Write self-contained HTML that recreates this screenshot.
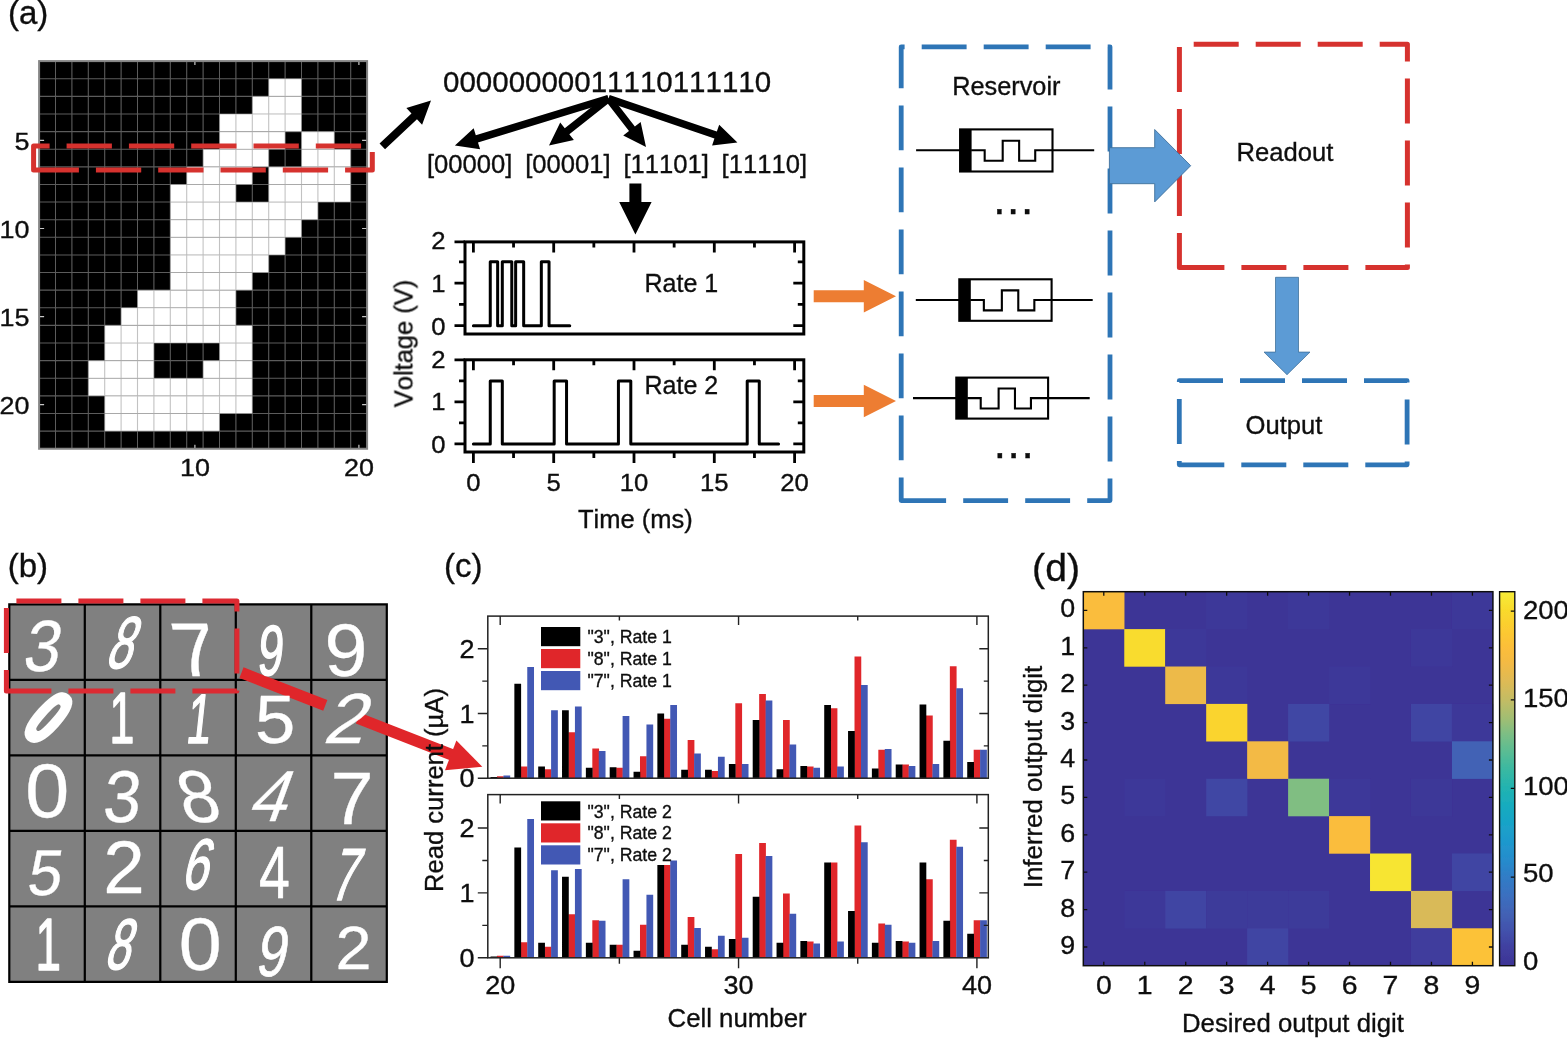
<!DOCTYPE html>
<html lang="en"><head><meta charset="utf-8"><title>Reservoir computing figure</title>
<style>
html,body{margin:0;padding:0;background:#fff;}
body{width:1567px;height:1039px;overflow:hidden;}
svg{display:block;}
text{font-family:"Liberation Sans",sans-serif;fill:#111;font-kerning:none;stroke:#111;stroke-width:0.35px;}
.hw text{fill:#fff;stroke:#fff;stroke-linejoin:round;}
</style></head><body>
<svg width="1567" height="1039" viewBox="0 0 1567 1039">
<rect x="0" y="0" width="1567" height="1039" fill="#fff"/>
<defs><filter id="soft" x="0" y="0" width="1567" height="1039" filterUnits="userSpaceOnUse"><feGaussianBlur stdDeviation="0.55"/></filter></defs>
<g filter="url(#soft)">

<text transform="translate(7.9 24.3)" font-size="33">(a)</text>
<text transform="translate(7.7 576.5)" font-size="33">(b)</text>
<text transform="translate(444 576.6)" font-size="33">(c)</text>
<text transform="translate(1032.1 580.5) scale(1.03 1)" font-size="38">(d)</text>
<g id="digit-image">
<rect x="39.1" y="61.1" width="328" height="387.65" fill="#000"/>
<rect x="268.7" y="78.73" width="32.8" height="17.62" fill="#fff"/>
<rect x="252.3" y="96.35" width="49.2" height="17.62" fill="#fff"/>
<rect x="219.5" y="113.97" width="82" height="17.62" fill="#fff"/>
<rect x="219.5" y="131.59" width="65.6" height="17.62" fill="#fff"/>
<rect x="301.5" y="131.59" width="32.8" height="17.62" fill="#fff"/>
<rect x="203.1" y="149.21" width="65.6" height="17.62" fill="#fff"/>
<rect x="301.5" y="149.21" width="49.2" height="17.62" fill="#fff"/>
<rect x="186.7" y="166.83" width="65.6" height="17.62" fill="#fff"/>
<rect x="268.7" y="166.83" width="82" height="17.62" fill="#fff"/>
<rect x="170.3" y="184.45" width="65.6" height="17.62" fill="#fff"/>
<rect x="268.7" y="184.45" width="82" height="17.62" fill="#fff"/>
<rect x="170.3" y="202.07" width="147.6" height="17.62" fill="#fff"/>
<rect x="170.3" y="219.69" width="131.2" height="17.62" fill="#fff"/>
<rect x="170.3" y="237.31" width="114.8" height="17.62" fill="#fff"/>
<rect x="170.3" y="254.93" width="98.4" height="17.62" fill="#fff"/>
<rect x="170.3" y="272.55" width="82" height="17.62" fill="#fff"/>
<rect x="137.5" y="290.17" width="98.4" height="17.62" fill="#fff"/>
<rect x="121.1" y="307.79" width="114.8" height="17.62" fill="#fff"/>
<rect x="104.7" y="325.41" width="147.6" height="17.62" fill="#fff"/>
<rect x="104.7" y="343.03" width="49.2" height="17.62" fill="#fff"/>
<rect x="219.5" y="343.03" width="32.8" height="17.62" fill="#fff"/>
<rect x="88.3" y="360.65" width="65.6" height="17.62" fill="#fff"/>
<rect x="203.1" y="360.65" width="49.2" height="17.62" fill="#fff"/>
<rect x="88.3" y="378.27" width="164" height="17.62" fill="#fff"/>
<rect x="104.7" y="395.89" width="147.6" height="17.62" fill="#fff"/>
<rect x="104.7" y="413.51" width="114.8" height="17.62" fill="#fff"/>
<path d="M55.5 61.1V448.75M71.9 61.1V448.75M88.3 61.1V448.75M104.7 61.1V448.75M121.1 61.1V448.75M137.5 61.1V448.75M153.9 61.1V448.75M170.3 61.1V448.75M186.7 61.1V448.75M203.1 61.1V448.75M219.5 61.1V448.75M235.9 61.1V448.75M252.3 61.1V448.75M268.7 61.1V448.75M285.1 61.1V448.75M301.5 61.1V448.75M317.9 61.1V448.75M334.3 61.1V448.75M350.7 61.1V448.75M39.1 78.73H367.1M39.1 96.35H367.1M39.1 113.97H367.1M39.1 131.59H367.1M39.1 149.21H367.1M39.1 166.83H367.1M39.1 184.45H367.1M39.1 202.07H367.1M39.1 219.69H367.1M39.1 237.31H367.1M39.1 254.93H367.1M39.1 272.55H367.1M39.1 290.17H367.1M39.1 307.79H367.1M39.1 325.41H367.1M39.1 343.03H367.1M39.1 360.65H367.1M39.1 378.27H367.1M39.1 395.89H367.1M39.1 413.51H367.1M39.1 431.13H367.1" stroke="#9a9a9a" stroke-opacity="0.6" stroke-width="1.1" fill="none"/>
<path d="M194.9 61.1v4M194.9 448.75v-4M358.9 61.1v4M358.9 448.75v-4M39.1 140.4h5M367.1 140.4h-5M39.1 228.5h5M367.1 228.5h-5M39.1 316.6h5M367.1 316.6h-5M39.1 404.7h5M367.1 404.7h-5" stroke="#c8c8c8" stroke-width="1.2" fill="none"/>
<rect x="39.1" y="61.1" width="328" height="387.65" fill="none" stroke="#858585" stroke-width="2"/>
</g>
<text transform="translate(29.5 149.6) scale(1.1 1)" font-size="24.5" text-anchor="end">5</text>
<text transform="translate(29.5 237.7) scale(1.1 1)" font-size="24.5" text-anchor="end">10</text>
<text transform="translate(29.5 325.8) scale(1.1 1)" font-size="24.5" text-anchor="end">15</text>
<text transform="translate(29.5 413.9) scale(1.1 1)" font-size="24.5" text-anchor="end">20</text>
<text transform="translate(194.9 476) scale(1.1 1)" font-size="24.5" text-anchor="middle">10</text>
<text transform="translate(358.9 476) scale(1.1 1)" font-size="24.5" text-anchor="middle">20</text>
<path d="M33.6 170H372.3V146.1H33.6Z" fill="none" stroke="#d6302f" stroke-width="5" stroke-dasharray="45.3 17" stroke-linejoin="round"/>
<text transform="translate(443 91.6)" font-size="29.5">00000000011110111110</text>
<text transform="translate(427 173.3)" font-size="25.6">[00000]</text>
<text transform="translate(525.2 173.3)" font-size="25.6">[00001]</text>
<text transform="translate(623.4 173.3)" font-size="25.6">[11101]</text>
<text transform="translate(721.6 173.3)" font-size="25.6">[11110]</text>
<polygon points="385.04,149.22 416.97,119.26 422.1,124.72 431,100.6 406.36,107.95 411.49,113.42 379.56,143.38" fill="#000"/>
<polygon points="607.42,94.96 475.8,135.32 473.66,128.34 454.9,145.6 480.11,149.37 477.97,142.39 609.58,102.04" fill="#000"/>
<polygon points="606.21,95.6 564.75,128.34 560.23,122.61 549,145.5 573.87,139.88 569.34,134.15 610.79,101.4" fill="#000"/>
<polygon points="605.57,100.76 629,131.07 623.23,135.53 646,147 640.63,122.08 634.86,126.54 611.43,96.24" fill="#000"/>
<polygon points="607.3,102 714.44,138.57 712.08,145.48 737.4,142.5 719.19,124.66 716.83,131.57 609.7,95" fill="#000"/>
<polygon points="629.4,183.4 629.4,202 619.2,202 635.4,234.4 651.6,202 641.4,202 641.4,183.4" fill="#000"/>
<path d="M465 325.7h-10.5M803.8 325.7h-10.5M465 304.4h-6M803.8 304.4h-6M465 283.1h-10.5M803.8 283.1h-10.5M465 261.8h-6M803.8 261.8h-6M465 241.9h-10.5M473.4 241.9v10.5M513.55 241.9v5.5M553.7 241.9v10.5M593.85 241.9v5.5M634 241.9v10.5M674.15 241.9v5.5M714.3 241.9v10.5M754.45 241.9v5.5M794.6 241.9v10.5" stroke="#000" stroke-width="2.8" fill="none"/>
<rect x="465" y="241.9" width="338.8" height="92.1" fill="none" stroke="#000" stroke-width="3"/>
<path d="M473.4 325.7H490.26V261.8H497.65V325.7H502.31V261.8H511.78V325.7H515.64V261.8H523.67V325.7H541.33V261.8H549.04V325.7H569.76" stroke="#000" stroke-width="3" fill="none" stroke-linejoin="round" stroke-linecap="round"/>
<text transform="translate(445.5 334.7) scale(1.07 1)" font-size="24" text-anchor="end">0</text>
<text transform="translate(445.5 291.5) scale(1.07 1)" font-size="24" text-anchor="end">1</text>
<text transform="translate(445.5 248.9) scale(1.07 1)" font-size="24" text-anchor="end">2</text>
<text transform="translate(644.5 292)" font-size="25">Rate 1</text>
<path d="M465 443.9h-10.5M803.8 443.9h-10.5M465 422.9h-6M803.8 422.9h-6M465 401.9h-10.5M803.8 401.9h-10.5M465 380.9h-6M803.8 380.9h-6M465 359.8h-10.5M473.4 359.8v10.5M473.4 452v11M513.55 359.8v5.5M513.55 452v6M553.7 359.8v10.5M553.7 452v11M593.85 359.8v5.5M593.85 452v6M634 359.8v10.5M634 452v11M674.15 359.8v5.5M674.15 452v6M714.3 359.8v10.5M714.3 452v11M754.45 359.8v5.5M754.45 452v6M794.6 359.8v10.5M794.6 452v11" stroke="#000" stroke-width="2.8" fill="none"/>
<rect x="465" y="359.8" width="338.8" height="92.2" fill="none" stroke="#000" stroke-width="3"/>
<path d="M473.4 443.9H490.26V380.9H502.31V443.9H554.18V380.9H566.55V443.9H618.42V380.9H630.79V443.9H747.22V380.9H759.27V443.9H778.54" stroke="#000" stroke-width="3" fill="none" stroke-linejoin="round" stroke-linecap="round"/>
<text transform="translate(445.5 452.9) scale(1.07 1)" font-size="24" text-anchor="end">0</text>
<text transform="translate(445.5 410.3) scale(1.07 1)" font-size="24" text-anchor="end">1</text>
<text transform="translate(445.5 368.3) scale(1.07 1)" font-size="24" text-anchor="end">2</text>
<text transform="translate(644.5 394.2)" font-size="25">Rate 2</text>
<text transform="translate(473.4 491.3) scale(1.07 1)" font-size="24" text-anchor="middle">0</text>
<text transform="translate(553.7 491.3) scale(1.07 1)" font-size="24" text-anchor="middle">5</text>
<text transform="translate(634 491.3) scale(1.07 1)" font-size="24" text-anchor="middle">10</text>
<text transform="translate(714.3 491.3) scale(1.07 1)" font-size="24" text-anchor="middle">15</text>
<text transform="translate(794.6 491.3) scale(1.07 1)" font-size="24" text-anchor="middle">20</text>
<text transform="translate(578 527.6)" font-size="25.5">Time (ms)</text>
<text transform="translate(412.5 343.5) rotate(-90)" font-size="25.5" text-anchor="middle">Voltage (V)</text>
<polygon points="813.7,302.3 863.8,302.3 863.8,312.55 896,296.3 863.8,280.05 863.8,290.3 813.7,290.3" fill="#ed7d31"/>
<polygon points="813.7,406.9 863.8,406.9 863.8,417.15 896,400.9 863.8,384.65 863.8,394.9 813.7,394.9" fill="#ed7d31"/>
<path d="M901.2 500.6H1110V46.8H901.2Z" fill="none" stroke="#2e75b6" stroke-width="4.8" stroke-dasharray="44.9 17.1" stroke-linejoin="round"/>
<text transform="translate(952.2 95)" font-size="25.3">Reservoir</text>
<path d="M916.1 150.3H960.1M1052.5 150.3H1094.2" stroke="#000" stroke-width="2.1" fill="none"/>
<rect x="960.1" y="129.4" width="92.4" height="42.1" fill="#fff" stroke="#000" stroke-width="2.1"/>
<rect x="960.1" y="129.4" width="11.5" height="42.1" fill="#000"/>
<path d="M971.1 150.3H984.68V160.7H1002.7V140.7H1019.14V160.7H1035.22V150.3H1052.5" stroke="#000" stroke-width="2.1" fill="none"/>
<path d="M915.8 300H959.3M1051.6 300H1092.7" stroke="#000" stroke-width="2.1" fill="none"/>
<rect x="959.3" y="279.3" width="92.3" height="41.5" fill="#fff" stroke="#000" stroke-width="2.1"/>
<rect x="959.3" y="279.3" width="11.5" height="41.5" fill="#000"/>
<path d="M970.3 300H983.85V310.4H1001.85V290.4H1018.28V310.4H1034.34V300H1051.6" stroke="#000" stroke-width="2.1" fill="none"/>
<path d="M913 398.1H956.3M1048.1 398.1H1089.7" stroke="#000" stroke-width="2.1" fill="none"/>
<rect x="956.3" y="377.6" width="91.8" height="41" fill="#fff" stroke="#000" stroke-width="2.1"/>
<rect x="956.3" y="377.6" width="11.5" height="41" fill="#000"/>
<path d="M967.3 398.1H980.72V408.5H998.62V388.5H1014.96V408.5H1030.93V398.1H1048.1" stroke="#000" stroke-width="2.1" fill="none"/>
<text transform="translate(1014 214)" font-size="44" text-anchor="middle" letter-spacing="1.6">...</text>
<text transform="translate(1014.5 457.6)" font-size="44" text-anchor="middle" letter-spacing="1.6">...</text>
<path d="M1179.4 267.5H1407.4V44.2H1179.4Z" fill="none" stroke="#d6302f" stroke-width="5" stroke-dasharray="45 17" stroke-linejoin="round"/>
<polygon points="1109.4,183.7 1154.7,183.7 1154.7,201.9 1190.7,165.7 1154.7,129.5 1154.7,147.7 1109.4,147.7" fill="#5b9bd5" stroke="#41719c" stroke-width="0.9"/>
<text transform="translate(1236.5 160.9)" font-size="25.6">Readout</text>
<polygon points="1275.5,277.3 1275.5,352.1 1264,352.1 1287,374.7 1310,352.1 1298.5,352.1 1298.5,277.3" fill="#5b9bd5" stroke="#41719c" stroke-width="0.8"/>
<path d="M1179.3 464.8H1407.1V380.7H1179.3Z" fill="none" stroke="#2e75b6" stroke-width="4.8" stroke-dasharray="45 17" stroke-linejoin="round"/>
<text transform="translate(1245.5 434.1)" font-size="25.6">Output</text>
<path d="M496.97 778.2V776.26H503.72V778.2ZM520.81 778.2V766.55H527.56V778.2ZM544.64 778.2V769.14H551.39V778.2ZM568.48 778.2V732.26H575.23V778.2ZM592.31 778.2V748.44H599.06V778.2ZM616.15 778.2V767.85H622.9V778.2ZM639.99 778.2V756.2H646.74V778.2ZM663.82 778.2V718.68H670.57V778.2ZM687.65 778.2V740.03H694.4V778.2ZM711.49 778.2V771.08H718.24V778.2ZM735.32 778.2V703.15H742.07V778.2ZM759.16 778.2V694.09H765.91V778.2ZM783 778.2V719.97H789.75V778.2ZM806.83 778.2V766.55H813.58V778.2ZM830.66 778.2V708.32H837.41V778.2ZM854.5 778.2V656.56H861.25V778.2ZM878.33 778.2V749.73H885.08V778.2ZM902.17 778.2V764.61H908.92V778.2ZM926 778.2V715.44H932.75V778.2ZM949.84 778.2V666.27H956.59V778.2ZM973.68 778.2V749.73H980.43V778.2Z" fill="#e0282c"/>
<path d="M503.43 778.2V775.61H510.18V778.2ZM527.26 778.2V666.92H534.01V778.2ZM551.1 778.2V710.27H557.85V778.2ZM574.93 778.2V706.38H581.68V778.2ZM598.76 778.2V751.03H605.51V778.2ZM622.6 778.2V716.09H629.35V778.2ZM646.44 778.2V724.5H653.19V778.2ZM670.27 778.2V705.09H677.02V778.2ZM694.11 778.2V753.61H700.86V778.2ZM717.94 778.2V756.85H724.69V778.2ZM741.77 778.2V763.97H748.52V778.2ZM765.61 778.2V700.56H772.36V778.2ZM789.45 778.2V744.56H796.2V778.2ZM813.28 778.2V767.85H820.03V778.2ZM837.12 778.2V766.55H843.87V778.2ZM860.95 778.2V685.03H867.7V778.2ZM884.78 778.2V749.09H891.53V778.2ZM908.62 778.2V765.91H915.37V778.2ZM932.46 778.2V763.97H939.21V778.2ZM956.29 778.2V688.27H963.04V778.2ZM980.13 778.2V749.73H986.88V778.2Z" fill="#4258b4"/>
<path d="M490.52 778.2V776.91H497.27V778.2ZM514.36 778.2V683.74H521.11V778.2ZM538.2 778.2V766.55H544.95V778.2ZM562.03 778.2V710.27H568.78V778.2ZM585.87 778.2V767.85H592.62V778.2ZM609.7 778.2V767.2H616.45V778.2ZM633.54 778.2V771.73H640.29V778.2ZM657.37 778.2V713.5H664.12V778.2ZM681.21 778.2V769.79H687.96V778.2ZM705.04 778.2V769.79H711.79V778.2ZM728.88 778.2V763.97H735.62V778.2ZM752.71 778.2V719.97H759.46V778.2ZM776.55 778.2V769.14H783.3V778.2ZM800.38 778.2V765.91H807.13V778.2ZM824.22 778.2V705.09H830.97V778.2ZM848.05 778.2V730.97H854.8V778.2ZM871.88 778.2V768.5H878.63V778.2ZM895.72 778.2V764.61H902.47V778.2ZM919.56 778.2V704.44H926.31V778.2ZM943.39 778.2V740.67H950.14V778.2ZM967.23 778.2V762.03H973.98V778.2Z" fill="#000"/>
<path d="M500.2 616.1v9M619.38 616.1v4.5M738.55 616.1v9M857.73 616.1v4.5M976.9 616.1v9M487.8 745.85h-5.5M988.3 745.85h-4.5M487.8 713.5h-10M988.3 713.5h-9M487.8 681.15h-5.5M988.3 681.15h-4.5M487.8 648.8h-10M988.3 648.8h-9M487.8 778.2h-10" stroke="#222" stroke-width="1.4" fill="none"/>
<rect x="487.8" y="616.1" width="500.5" height="162.1" fill="none" stroke="#222" stroke-width="1.5"/>
<text transform="translate(474.5 787.2) scale(1.08 1)" font-size="25" text-anchor="end">0</text>
<text transform="translate(474.5 722.5) scale(1.08 1)" font-size="25" text-anchor="end">1</text>
<text transform="translate(474.5 657.8) scale(1.08 1)" font-size="25" text-anchor="end">2</text>
<rect x="541" y="627" width="39.3" height="19.2" fill="#000"/>
<text transform="translate(587.5 643.2)" font-size="17.7">"3", Rate 1</text>
<rect x="541" y="649" width="39.3" height="19.2" fill="#e0282c"/>
<text transform="translate(587.5 665)" font-size="17.7">"8", Rate 1</text>
<rect x="541" y="671" width="39.3" height="19.2" fill="#4258b4"/>
<text transform="translate(587.5 686.8)" font-size="17.7">"7", Rate 1</text>
<path d="M496.97 957.8V955.85H503.72V957.8ZM520.81 957.8V942.22H527.56V957.8ZM544.64 957.8V946.77H551.39V957.8ZM568.48 957.8V914.32H575.23V957.8ZM592.31 957.8V920.16H599.06V957.8ZM616.15 957.8V944.82H622.9V957.8ZM639.99 957.8V924.7H646.74V957.8ZM663.82 957.8V864.99H670.57V957.8ZM687.65 957.8V916.91H694.4V957.8ZM711.49 957.8V949.36H718.24V957.8ZM735.32 957.8V853.96H742.07V957.8ZM759.16 957.8V842.93H765.91V957.8ZM783 957.8V893.55H789.75V957.8ZM806.83 957.8V941.57H813.58V957.8ZM830.66 957.8V862.4H837.41V957.8ZM854.5 957.8V825.4H861.25V957.8ZM878.33 957.8V923.4H885.08V957.8ZM902.17 957.8V941.57H908.92V957.8ZM926 957.8V879.27H932.75V957.8ZM949.84 957.8V839.68H956.59V957.8ZM973.68 957.8V920.16H980.43V957.8Z" fill="#e0282c"/>
<path d="M503.43 957.8V955.85H510.18V957.8ZM527.26 957.8V818.91H534.01V957.8ZM551.1 957.8V870.18H557.85V957.8ZM574.93 957.8V868.89H581.68V957.8ZM598.76 957.8V920.81H605.51V957.8ZM622.6 957.8V879.27H629.35V957.8ZM646.44 957.8V894.85H653.19V957.8ZM670.27 957.8V860.45H677.02V957.8ZM694.11 957.8V927.95H700.86V957.8ZM717.94 957.8V935.73H724.69V957.8ZM741.77 957.8V937.68H748.52V957.8ZM765.61 957.8V855.91H772.36V957.8ZM789.45 957.8V913.67H796.2V957.8ZM813.28 957.8V943.52H820.03V957.8ZM837.12 957.8V941.57H843.87V957.8ZM860.95 957.8V842.28H867.7V957.8ZM884.78 957.8V924.7H891.53V957.8ZM908.62 957.8V942.87H915.37V957.8ZM932.46 957.8V940.93H939.21V957.8ZM956.29 957.8V846.82H963.04V957.8ZM980.13 957.8V920.16H986.88V957.8Z" fill="#4258b4"/>
<path d="M490.52 957.8V956.5H497.27V957.8ZM514.36 957.8V847.47H521.11V957.8ZM538.2 957.8V942.87H544.95V957.8ZM562.03 957.8V876.67H568.78V957.8ZM585.87 957.8V942.87H592.62V957.8ZM609.7 957.8V944.82H616.45V957.8ZM633.54 957.8V950.66H640.29V957.8ZM657.37 957.8V864.99H664.12V957.8ZM681.21 957.8V944.82H687.96V957.8ZM705.04 957.8V946.77H711.79V957.8ZM728.88 957.8V938.98H735.62V957.8ZM752.71 957.8V896.79H759.46V957.8ZM776.55 957.8V942.87H783.3V957.8ZM800.38 957.8V940.93H807.13V957.8ZM824.22 957.8V862.4H830.97V957.8ZM848.05 957.8V911.07H854.8V957.8ZM871.88 957.8V942.87H878.63V957.8ZM895.72 957.8V940.93H902.47V957.8ZM919.56 957.8V862.4H926.31V957.8ZM943.39 957.8V920.81H950.14V957.8ZM967.23 957.8V933.79H973.98V957.8Z" fill="#000"/>
<path d="M500.2 794.6v9M500.2 957.8v10.5M619.38 794.6v4.5M619.38 957.8v6M738.55 794.6v9M738.55 957.8v10.5M857.73 794.6v4.5M857.73 957.8v6M976.9 794.6v9M976.9 957.8v10.5M487.8 925.35h-5.5M988.3 925.35h-4.5M487.8 892.9h-10M988.3 892.9h-9M487.8 860.45h-5.5M988.3 860.45h-4.5M487.8 828h-10M988.3 828h-9M487.8 957.8h-10" stroke="#222" stroke-width="1.4" fill="none"/>
<rect x="487.8" y="794.6" width="500.5" height="163.2" fill="none" stroke="#222" stroke-width="1.5"/>
<text transform="translate(474.5 966.8) scale(1.08 1)" font-size="25" text-anchor="end">0</text>
<text transform="translate(474.5 901.9) scale(1.08 1)" font-size="25" text-anchor="end">1</text>
<text transform="translate(474.5 837) scale(1.08 1)" font-size="25" text-anchor="end">2</text>
<rect x="541" y="801.3" width="39.3" height="19.2" fill="#000"/>
<text transform="translate(587.5 817.5)" font-size="17.7">"3", Rate 2</text>
<rect x="541" y="823.3" width="39.3" height="19.2" fill="#e0282c"/>
<text transform="translate(587.5 839.3)" font-size="17.7">"8", Rate 2</text>
<rect x="541" y="845.3" width="39.3" height="19.2" fill="#4258b4"/>
<text transform="translate(587.5 861.1)" font-size="17.7">"7", Rate 2</text>
<text transform="translate(500.2 993.8) scale(1.08 1)" font-size="25" text-anchor="middle">20</text>
<text transform="translate(738.55 993.8) scale(1.08 1)" font-size="25" text-anchor="middle">30</text>
<text transform="translate(976.9 993.8) scale(1.08 1)" font-size="25" text-anchor="middle">40</text>
<text transform="translate(667.5 1027.4)" font-size="25.8">Cell number</text>
<rect x="9.3" y="604.4" width="377.5" height="377.5" fill="#808080"/>
<path d="M9.3 603.3V983M8.2 604.4H387.9M84.8 603.3V983M8.2 679.9H387.9M160.3 603.3V983M8.2 755.4H387.9M235.8 603.3V983M8.2 830.9H387.9M311.3 603.3V983M8.2 906.4H387.9M386.8 603.3V983M8.2 981.9H387.9" stroke="#000" stroke-width="2.2" fill="none"/>
<path d="M6.4 691H236.9V601H6.4Z" fill="none" stroke="#dc2b30" stroke-width="5" stroke-dasharray="45 17" stroke-linejoin="round"/>
<polygon points="239.43,677.97 323.23,710.69 327.37,700.07 243.57,667.35" fill="#e0262a"/>
<polygon points="355.83,723.43 449.93,760.18 454.07,749.56 359.97,712.81" fill="#e0262a"/>
<polygon points="482.3,766.7 456.4,740.5 445,770.2" fill="#e0262a"/>
<g class="hw">
<text transform="translate(21.3 670.52) skewX(-10) scale(0.9 1)" font-size="72.74" style="stroke-width:0.3px">3</text>
<text transform="translate(104.23 667.82) skewX(-18.43) scale(0.62 1)" font-size="73.6" style="stroke-width:1.48px">8</text>
<text transform="translate(178.8 676.35) skewX(12) scale(1.02 1)" font-size="76.02" style="stroke-width:0.3px">7</text>
<text transform="translate(256.51 675.02) skewX(-5) scale(0.64 1)" font-size="70.99" style="stroke-width:1.53px">9</text>
<text transform="translate(324.41 676.12) skewX(0) scale(1.05 1)" font-size="73.45" style="stroke-width:0.3px">9</text>
<text transform="translate(48.5 717.85) rotate(42) translate(-13.76 27.52) scale(0.62 1)" font-size="80" style="stroke-width:5px" font-weight="bold">0</text>
<text transform="translate(109.49 742.61) skewX(0) scale(0.62 1)" font-size="71.98" style="stroke-width:1.57px">1</text>
<text transform="translate(185.15 742.56) skewX(-6.08) scale(0.62 1)" font-size="69.93" style="stroke-width:1.68px">1</text>
<text transform="translate(254.97 742.56) skewX(0) scale(1.05 1)" font-size="69.05" style="stroke-width:0.3px">5</text>
<text transform="translate(322 743.25) skewX(-18) scale(1.03 1)" font-size="70.92" style="stroke-width:0.3px">2</text>
<text transform="translate(25.23 816.7) skewX(0) scale(1.05 1)" font-size="75.28" style="stroke-width:0.3px">0</text>
<text transform="translate(101.75 821.82) skewX(-5) scale(0.92 1)" font-size="73.45" style="stroke-width:0.3px">3</text>
<text transform="translate(184.77 821.82) skewX(14) scale(0.97 1)" font-size="73.45" style="stroke-width:0.3px">8</text>
<text transform="translate(246.19 821.35) skewX(-20) scale(0.94 1)" font-size="71.95" style="stroke-width:0.3px">4</text>
<text transform="translate(330.45 823.85) skewX(0) scale(1.05 1)" font-size="73.69" style="stroke-width:0.3px">7</text>
<text transform="translate(25.87 894.7) skewX(-8) scale(0.95 1)" font-size="64.76" style="stroke-width:0.3px">5</text>
<text transform="translate(103.13 892.85) skewX(0) scale(1 1)" font-size="74.64" style="stroke-width:0.3px">2</text>
<text transform="translate(180.17 888.99) skewX(-14) scale(0.66 1)" font-size="71.91" style="stroke-width:1.35px">6</text>
<text transform="translate(258.97 897.66) skewX(0) scale(0.75 1)" font-size="73.87" style="stroke-width:0.64px">4</text>
<text transform="translate(328.84 899.93) skewX(-14) scale(0.64 1)" font-size="74.07" style="stroke-width:1.31px">7</text>
<text transform="translate(35.55 970.06) skewX(0) scale(0.62 1)" font-size="73.87" style="stroke-width:1.47px">1</text>
<text transform="translate(103.78 969.28) skewX(-15.16) scale(0.62 1)" font-size="71.61" style="stroke-width:1.59px">8</text>
<text transform="translate(178.66 969.92) skewX(0) scale(1.05 1)" font-size="73.45" style="stroke-width:0.3px">0</text>
<text transform="translate(254.51 976.08) skewX(-10) scale(0.76 1)" font-size="71.03" style="stroke-width:0.77px">9</text>
<text transform="translate(335.48 969.35) skewX(0) scale(1.05 1)" font-size="61.75" style="stroke-width:0.3px">2</text>
</g>
<text transform="translate(443 790) rotate(-90)" font-size="25.6" text-anchor="middle">Read current (µA)</text>
<rect x="1083.3" y="591.7" width="409.6" height="374" fill="#3d3496"/>
<rect x="1083.3" y="591.7" width="41.16" height="37.6" fill="#fabd3c"/>
<rect x="1206.18" y="591.7" width="41.16" height="37.6" fill="#3e3899"/>
<rect x="1288.1" y="591.7" width="41.16" height="37.6" fill="#3e3899"/>
<rect x="1451.94" y="591.7" width="41.16" height="37.6" fill="#3e3899"/>
<rect x="1124.26" y="629.1" width="41.16" height="37.6" fill="#f9dc2d"/>
<rect x="1165.22" y="629.1" width="41.16" height="37.6" fill="#3e3899"/>
<rect x="1410.98" y="629.1" width="41.16" height="37.6" fill="#3e3899"/>
<rect x="1165.22" y="666.5" width="41.16" height="37.6" fill="#edba49"/>
<rect x="1206.18" y="666.5" width="41.16" height="37.6" fill="#3e3899"/>
<rect x="1329.06" y="666.5" width="41.16" height="37.6" fill="#3e3899"/>
<rect x="1206.18" y="703.9" width="41.16" height="37.6" fill="#fad42e"/>
<rect x="1288.1" y="703.9" width="41.16" height="37.6" fill="#4146a4"/>
<rect x="1410.98" y="703.9" width="41.16" height="37.6" fill="#4145a3"/>
<rect x="1451.94" y="703.9" width="41.16" height="37.6" fill="#3e3899"/>
<rect x="1247.14" y="741.3" width="41.16" height="37.6" fill="#f3ba44"/>
<rect x="1451.94" y="741.3" width="41.16" height="37.6" fill="#4262b5"/>
<rect x="1124.26" y="778.7" width="41.16" height="37.6" fill="#3e3899"/>
<rect x="1206.18" y="778.7" width="41.16" height="37.6" fill="#4146a4"/>
<rect x="1288.1" y="778.7" width="41.16" height="37.6" fill="#80be82"/>
<rect x="1329.06" y="778.7" width="41.16" height="37.6" fill="#3e3899"/>
<rect x="1410.98" y="778.7" width="41.16" height="37.6" fill="#3e3798"/>
<rect x="1329.06" y="816.1" width="41.16" height="37.6" fill="#fabd3c"/>
<rect x="1370.02" y="853.5" width="41.16" height="37.6" fill="#f7e533"/>
<rect x="1451.94" y="853.5" width="41.16" height="37.6" fill="#4145a3"/>
<rect x="1124.26" y="890.9" width="41.16" height="37.6" fill="#3e3899"/>
<rect x="1165.22" y="890.9" width="41.16" height="37.6" fill="#4145a3"/>
<rect x="1206.18" y="890.9" width="41.16" height="37.6" fill="#3e3a9a"/>
<rect x="1247.14" y="890.9" width="41.16" height="37.6" fill="#3e3a9a"/>
<rect x="1288.1" y="890.9" width="41.16" height="37.6" fill="#3e3a9a"/>
<rect x="1410.98" y="890.9" width="41.16" height="37.6" fill="#d9ba58"/>
<rect x="1247.14" y="928.3" width="41.16" height="37.6" fill="#4145a3"/>
<rect x="1410.98" y="928.3" width="41.16" height="37.6" fill="#3f3c9d"/>
<rect x="1451.94" y="928.3" width="41.16" height="37.6" fill="#fcc237"/>
<path d="M1103.78 591.7v4M1103.78 965.7v-4M1083.3 610.4h4M1492.9 610.4h-4M1144.74 591.7v4M1144.74 965.7v-4M1083.3 647.8h4M1492.9 647.8h-4M1185.7 591.7v4M1185.7 965.7v-4M1083.3 685.2h4M1492.9 685.2h-4M1226.66 591.7v4M1226.66 965.7v-4M1083.3 722.6h4M1492.9 722.6h-4M1267.62 591.7v4M1267.62 965.7v-4M1083.3 760h4M1492.9 760h-4M1308.58 591.7v4M1308.58 965.7v-4M1083.3 797.4h4M1492.9 797.4h-4M1349.54 591.7v4M1349.54 965.7v-4M1083.3 834.8h4M1492.9 834.8h-4M1390.5 591.7v4M1390.5 965.7v-4M1083.3 872.2h4M1492.9 872.2h-4M1431.46 591.7v4M1431.46 965.7v-4M1083.3 909.6h4M1492.9 909.6h-4M1472.42 591.7v4M1472.42 965.7v-4M1083.3 947h4M1492.9 947h-4" stroke="#111" stroke-width="1.3" fill="none"/>
<rect x="1083.3" y="591.7" width="409.6" height="374" fill="none" stroke="#111" stroke-width="1.5"/>
<text transform="translate(1075.2 617.3) scale(1.03 1)" font-size="26" text-anchor="end">0</text>
<text transform="translate(1103.78 994.4) scale(1.08 1)" font-size="26.3" text-anchor="middle">0</text>
<text transform="translate(1075.2 654.7) scale(1.03 1)" font-size="26" text-anchor="end">1</text>
<text transform="translate(1144.74 994.4) scale(1.08 1)" font-size="26.3" text-anchor="middle">1</text>
<text transform="translate(1075.2 692.1) scale(1.03 1)" font-size="26" text-anchor="end">2</text>
<text transform="translate(1185.7 994.4) scale(1.08 1)" font-size="26.3" text-anchor="middle">2</text>
<text transform="translate(1075.2 729.5) scale(1.03 1)" font-size="26" text-anchor="end">3</text>
<text transform="translate(1226.66 994.4) scale(1.08 1)" font-size="26.3" text-anchor="middle">3</text>
<text transform="translate(1075.2 766.9) scale(1.03 1)" font-size="26" text-anchor="end">4</text>
<text transform="translate(1267.62 994.4) scale(1.08 1)" font-size="26.3" text-anchor="middle">4</text>
<text transform="translate(1075.2 804.3) scale(1.03 1)" font-size="26" text-anchor="end">5</text>
<text transform="translate(1308.58 994.4) scale(1.08 1)" font-size="26.3" text-anchor="middle">5</text>
<text transform="translate(1075.2 841.7) scale(1.03 1)" font-size="26" text-anchor="end">6</text>
<text transform="translate(1349.54 994.4) scale(1.08 1)" font-size="26.3" text-anchor="middle">6</text>
<text transform="translate(1075.2 879.1) scale(1.03 1)" font-size="26" text-anchor="end">7</text>
<text transform="translate(1390.5 994.4) scale(1.08 1)" font-size="26.3" text-anchor="middle">7</text>
<text transform="translate(1075.2 916.5) scale(1.03 1)" font-size="26" text-anchor="end">8</text>
<text transform="translate(1431.46 994.4) scale(1.08 1)" font-size="26.3" text-anchor="middle">8</text>
<text transform="translate(1075.2 953.9) scale(1.03 1)" font-size="26" text-anchor="end">9</text>
<text transform="translate(1472.42 994.4) scale(1.08 1)" font-size="26.3" text-anchor="middle">9</text>
<defs><linearGradient id="cbar" x1="0" y1="1" x2="0" y2="0">
<stop offset="0" stop-color="#3d3395"/>
<stop offset="0.05" stop-color="#4040a0"/>
<stop offset="0.09" stop-color="#4350ab"/>
<stop offset="0.14" stop-color="#4262b5"/>
<stop offset="0.19" stop-color="#3a70c0"/>
<stop offset="0.24" stop-color="#307dc6"/>
<stop offset="0.28" stop-color="#268bcc"/>
<stop offset="0.33" stop-color="#1e98cd"/>
<stop offset="0.38" stop-color="#19a3c8"/>
<stop offset="0.43" stop-color="#18acbe"/>
<stop offset="0.47" stop-color="#20b2b2"/>
<stop offset="0.52" stop-color="#37b8a3"/>
<stop offset="0.57" stop-color="#58bc94"/>
<stop offset="0.62" stop-color="#7dbe84"/>
<stop offset="0.66" stop-color="#a0be73"/>
<stop offset="0.71" stop-color="#c3bc64"/>
<stop offset="0.76" stop-color="#deba55"/>
<stop offset="0.81" stop-color="#f3ba44"/>
<stop offset="0.85" stop-color="#fcbe3a"/>
<stop offset="0.9" stop-color="#fccb30"/>
<stop offset="0.95" stop-color="#f9da2c"/>
<stop offset="1" stop-color="#f6ec37"/>
</linearGradient></defs>
<rect x="1499.6" y="591.7" width="15.2" height="374" fill="url(#cbar)" stroke="#111" stroke-width="1.4"/>
<path d="M1514.8 877.07h-4M1514.8 788.45h-4M1514.8 699.82h-4M1514.8 611.2h-4" stroke="#111" stroke-width="1.3" fill="none"/>
<text transform="translate(1523 969.9) scale(1.08 1)" font-size="25.5">0</text>
<text transform="translate(1523 882.2) scale(1.08 1)" font-size="25.5">50</text>
<text transform="translate(1523 794.5) scale(1.08 1)" font-size="25.5">100</text>
<text transform="translate(1523 706.8) scale(1.08 1)" font-size="25.5">150</text>
<text transform="translate(1523 619.1) scale(1.08 1)" font-size="25.5">200</text>
<text transform="translate(1041.5 777) rotate(-90)" font-size="25.8" text-anchor="middle">Inferred output digit</text>
<text transform="translate(1182 1032)" font-size="25.75">Desired output digit</text>
</g>
</svg>
</body></html>
